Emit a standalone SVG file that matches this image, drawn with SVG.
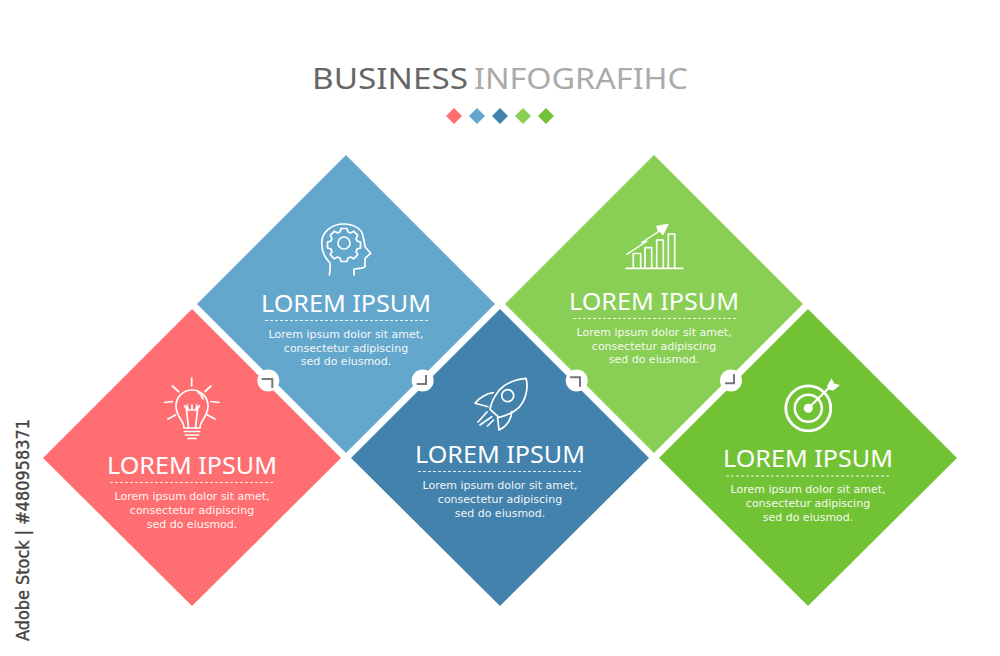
<svg xmlns="http://www.w3.org/2000/svg" width="1000" height="656" viewBox="0 0 1000 656">
<style>
.h{font-family:"Noto Sans","DejaVu Sans",sans-serif;font-size:24px;fill:#fff;text-anchor:middle}
.b{font-family:"DejaVu Sans",sans-serif;font-size:11px;fill:#fff;text-anchor:middle;opacity:.92}
.d{stroke:#fff;stroke-width:1;stroke-dasharray:3 2;fill:none;opacity:.85}
.i{fill:none;stroke:#fff;stroke-width:1.7;stroke-linecap:round;stroke-linejoin:round}
.t{font-family:"Noto Sans","DejaVu Sans",sans-serif;font-size:29px}
.m{fill:none;stroke:#77777c;stroke-width:2}
</style>
<rect width="1000" height="656" fill="#fff"/>
<g id="title">
<text class="t" x="312" y="89" fill="#666" textLength="156" lengthAdjust="spacingAndGlyphs">BUSINESS</text>
<text class="t" x="474" y="89" fill="#aaa" textLength="214" lengthAdjust="spacingAndGlyphs">INFOGRAFIHC</text>
<path fill="#ff6f72" d="M454 108l8 8-8 8-8-8z"/>
<path fill="#64a7cc" d="M477 108l8 8-8 8-8-8z"/>
<path fill="#4282ac" d="M500 108l8 8-8 8-8-8z"/>
<path fill="#89ce55" d="M523 108l8 8-8 8-8-8z"/>
<path fill="#72c236" d="M546 108l8 8-8 8-8-8z"/>
</g>
<g id="node-red">
<path fill="#ff6f72" d="M192 309L341 458 192 606 43 458z"/>
<path class="i" d="M191.700 378v7.700M172.500 386l6 5.500M211 386l-6 5.500M164.500 402.500l8-1M219 402.500l-8-1M168 419l7.500-4M215 419l-7.500-4"/>
<path class="i" d="M184 428c0-8-8-11-8-22a16 16 0 0 1 32 0c0 11-8 14-8 22z"/>
<path class="i" stroke-width="1.300" d="M188.500 428l-2-18M195.500 428l2-18M184.500 406l3 4h9l3-4M188 410l-1-5M192 410v-5M196 410l1-5M198 392a11 11 0 0 1 5 7"/>
<path class="i" d="M184.500 431.500h15M185.500 435h13M188 438.500h8"/>
<text class="h" x="192" y="474" textLength="170" lengthAdjust="spacingAndGlyphs">LOREM IPSUM</text>
<path class="d" d="M110 482.500h164"/>
<text class="b" x="192" y="500">Lorem ipsum dolor sit amet,</text>
<text class="b" x="192" y="514">consectetur adipiscing</text>
<text class="b" x="192" y="528">sed do eiusmod.</text>
</g>
<g id="node-blue">
<path fill="#64a7cc" d="M346 155L495 304 346 453 197 304z"/>
<path class="i" d="M329.300 275c1-5 1-9 .700-12-5-5-8.300-12-8.300-20 0-11 10-19 21.600-19 11.700 0 19.700 6 19.700 13 1.500 3 1.500 7 2 9.700l5.700 6.600-5.700 5v8.400c-3 3-11 1-11 2.600V275"/>
<circle class="i" cx="344" cy="243" r="6"/>
<path class="i" d="M341 228.500h6l.8 3.300 2.800 1.200 3-1.800 4.200 4.200-1.800 3 1.200 2.800 3.300.8v6l-3.300.8-1.200 2.800 1.800 3-4.200 4.200-3-1.800-2.800 1.200-.8 3.300h-6l-.8-3.300-2.800-1.200-3 1.800-4.200-4.200 1.800-3-1.200-2.800-3.300-.8v-6l3.300-.8 1.200-2.800-1.800-3 4.200-4.200 3 1.800 2.800-1.200z"/>
<text class="h" x="346" y="312" textLength="170" lengthAdjust="spacingAndGlyphs">LOREM IPSUM</text>
<path class="d" d="M265 320.500h163"/>
<text class="b" x="346" y="338">Lorem ipsum dolor sit amet,</text>
<text class="b" x="346" y="352">consectetur adipiscing</text>
<text class="b" x="346" y="365">sed do eiusmod.</text>
</g>
<g id="node-darkblue">
<path fill="#4282ac" d="M500 309L649 458 500 606 351 458z"/>
<path class="i" stroke-width="1.400" d="M526 378.300c-10 1-20 5-26 11-5 6-9 14-10 20l9 8c6-1 15-5 20-10 6-6 10-19 7-29z"/>
<circle class="i" cx="507.700" cy="395.700" r="6"/>
<path class="i" d="M493.300 392.700c-7 .5-15 6-18.300 10.600l13 3.500M511.700 411.700c0 7-5 15-12.700 18.300l-1.500-13M487 412l-9 10M491.700 416.700l-11.700 8.300M493.500 420l-6 6"/>
<text class="h" x="500" y="463" textLength="170" lengthAdjust="spacingAndGlyphs">LOREM IPSUM</text>
<path class="d" d="M418 471.500h163"/>
<text class="b" x="500" y="489">Lorem ipsum dolor sit amet,</text>
<text class="b" x="500" y="503">consectetur adipiscing</text>
<text class="b" x="500" y="517">sed do eiusmod.</text>
</g>
<g id="node-lightgreen">
<path fill="#89ce55" d="M654 155L803 304 654 453 505 304z"/>
<path class="i" d="M626 268.300h56.700M633.300 268v-14.500h7.400V268M645 268v-20.300h6.700V268M656.700 268v-28h6.600V268M668.300 268v-34h6.400V268"/>
<path d="M626 254.300l17-11-2-.8 17-11-1.500-5.500 12-2-5.500 11-3.500-3.500-14 9 2 .8-20.500 13.500z" fill="#fff" stroke="#fff" stroke-width=".6" stroke-linejoin="round"/>
<text class="h" x="654" y="310" textLength="170" lengthAdjust="spacingAndGlyphs">LOREM IPSUM</text>
<path class="d" d="M573 318.500h163"/>
<text class="b" x="654" y="336">Lorem ipsum dolor sit amet,</text>
<text class="b" x="654" y="350">consectetur adipiscing</text>
<text class="b" x="654" y="363">sed do eiusmod.</text>
</g>
<g id="node-green">
<path fill="#72c236" d="M808 309L957 458 808 606 659 458z"/>
<circle cx="808.300" cy="408.300" r="22.500" fill="none" stroke="#fff" stroke-width="2.800"/>
<circle cx="808.300" cy="408.300" r="13.500" fill="none" stroke="#fff" stroke-width="2.500"/>
<circle cx="808.300" cy="408.300" r="4.500" fill="#fff"/>
<path d="M808.300 408.300L830 386.700" stroke="#fff" stroke-width="2.200" fill="none"/>
<path fill="#fff" d="M827 386l4.700-7.700 2.300 5.300 6 1.400-6.500 5.500-4-.5z"/>
<text class="h" x="808" y="467" textLength="170" lengthAdjust="spacingAndGlyphs">LOREM IPSUM</text>
<path class="d" d="M726 476h163"/>
<text class="b" x="808" y="493">Lorem ipsum dolor sit amet,</text>
<text class="b" x="808" y="507">consectetur adipiscing</text>
<text class="b" x="808" y="521">sed do eiusmod.</text>
</g>
<g id="connectors">
<circle cx="268.300" cy="380.500" r="11" fill="#fff"/>
<path class="m" d="M261.700 379h10.600v9"/>
<circle cx="422.700" cy="380.500" r="11" fill="#fff"/>
<path class="m" d="M416.700 384H426v-9"/>
<circle cx="576.700" cy="380.500" r="11" fill="#fff"/>
<path class="m" d="M570 377.300h10v9.400"/>
<circle cx="731" cy="380.500" r="11" fill="#fff"/>
<path class="m" d="M725 383.300h9v-9"/>
</g>
<text id="credit" transform="translate(29 641) rotate(-90)" font-family="'DejaVu Sans',sans-serif" font-size="17" fill="#444" stroke="#444" stroke-width=".4" textLength="222" lengthAdjust="spacingAndGlyphs">Adobe Stock | #480958371</text>
</svg>
